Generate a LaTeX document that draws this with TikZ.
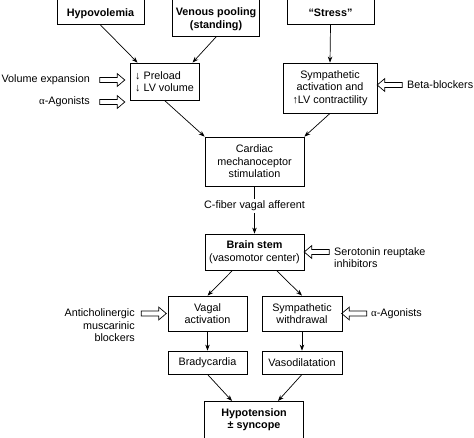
\documentclass[tikz,border=0pt]{standalone}
\usepackage{fontspec}
\setmainfont{Liberation Sans}
\newfontfamily\greekfont{Liberation Serif}
\usetikzlibrary{arrows.meta,shapes.arrows,calc}

\begin{document}
\begin{tikzpicture}[x=1pt,y=-1pt,
   every node/.style={font=\fontsize{10.8}{12.5}\selectfont, inner sep=2pt},
   box/.style={draw, line width=0.8pt, align=center, inner sep=3pt},
   topbox/.style={box, font=\fontsize{10.8}{12.5}\selectfont\bfseries, anchor=south, minimum width=87, inner ysep=6pt},
   link/.style={line width=0.7pt, -{Stealth[length=6pt,width=4.5pt]}},
   hollow/.style={single arrow, draw, line width=0.7pt, minimum height=25, inner sep=2.2pt,
                  single arrow head extend=3.8pt, single arrow tip angle=80},
   hollowl/.style={hollow, shape border rotate=180}]
\useasboundingbox (0,0) rectangle (474,437);

\node[topbox, text depth=2.5pt] (hypo) at (100.5,25) {\rule{0pt}{32pt}Hypovolemia};
\node[topbox] (venous) at (216,37) {\rule{0pt}{32pt}Venous pooling\\(standing)};
\node[topbox, text depth=2.5pt] (stress) at (330.5,25) {\rule{0pt}{32pt}“Stress”};

\node[box, align=left, minimum width=69, minimum height=37] (preload) at (164.5,81.5) {↓ Preload\\↓ LV volume};
\node[box, minimum width=94, minimum height=50] (sympact) at (330,88) {Sympathetic\\activation and\\↑LV contractility};
\node[box, minimum width=99, minimum height=49] (cardiac) at (254.5,161.5) {Cardiac\\mechanoceptor\\stimulation};
\node (cfiber) at (254.5,206) {C-fiber vagal afferent};
\node[box, minimum width=99, minimum height=36] (brain) at (254.5,252) {\textbf{Brain stem}\\(vasomotor center)};
\node[box, minimum width=79, minimum height=35] (vagal) at (207.5,313.5) {Vagal\\activation};
\node[box, minimum width=80, minimum height=35] (sympwd) at (302,313.5) {Sympathetic\\withdrawal};
\node[box, minimum width=79, minimum height=23] (brady) at (207.5,362.5) {Bradycardia};
\node[box, minimum width=80, minimum height=23] (vaso) at (302,362.5) {Vasodilatation};
\node[box, font=\fontsize{10.8}{12.5}\selectfont\bfseries, anchor=north, minimum width=99, inner ysep=7pt] (hypot) at (254,401)
   {Hypotension\\± syncope\rule[-24pt]{0pt}{24pt}};

\node[anchor=east] (volexp) at (92,80) {Volume expansion};
\node[anchor=east] (agonl) at (92,102) {{\greekfont α}-Agonists};
\node[anchor=west] (beta) at (405,85) {Beta-blockers};
\node[anchor=west, align=left] (sero) at (332,257.5) {Serotonin reuptake\\inhibitors};
\node[anchor=east, align=right] (antichol) at (137,325.5) {Anticholinergic\\muscarinic\\blockers};
\node[anchor=west] (agonr) at (369,313.5) {{\greekfont α}-Agonists};

\foreach \a/\b in {hypo.south/preload.145, venous.south/preload.34, stress.south/sympact.north,
                   preload.south/cardiac.north west, sympact.south/cardiac.north east,
                   cfiber.south/brain.north, brain.220/vagal.north, brain.320/sympwd.north,
                   vagal.south/brady.north, sympwd.south/vaso.north}
   \draw[link] (\a) -- (\b);
\draw[line width=0.7pt] (cardiac.south) -- (cfiber.north);
\draw[link] (brady.south) -- ($(hypot.north)!0.44!(hypot.north west)$);
\draw[link] (vaso.south) -- ($(hypot.north)!0.48!(hypot.north east)$);

\path (volexp.east) -- (volexp.east -| preload.west) node[midway, hollow] (h1) {};
\path (agonl.east) -- (agonl.east -| preload.west) node[midway, hollow] (h2) {};
\path (beta.west) -- (beta.west -| sympact.east) node[midway, hollowl] (h3) {};
\path (brain.east) -- (brain.east -| sero.west) node[midway, hollowl] (h4) {};
\path (vagal.west) -- (vagal.west -| antichol.east) node[midway, hollow] (h5) {};
\path (sympwd.east) -- (sympwd.east -| agonr.west) node[midway, hollowl] (h6) {};
\end{tikzpicture}
\end{document}
